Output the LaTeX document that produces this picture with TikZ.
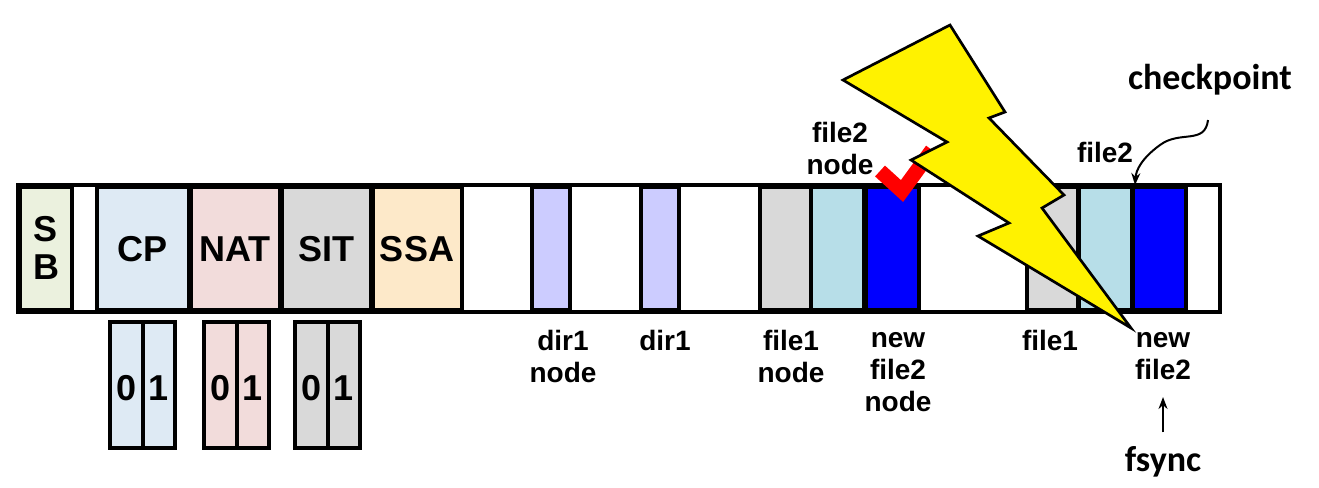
\documentclass[tikz,border=0pt]{standalone}
\usepackage{fontspec}
\setmainfont{Liberation Sans}
\newfontfamily\calib{Carlito}
\usetikzlibrary{arrows.meta}
\usetikzlibrary{positioning}
\definecolor{sbgreen}{HTML}{EBF1DE}
\definecolor{cpblue}{HTML}{DEEAF4}
\definecolor{natred}{HTML}{F2DCDB}
\definecolor{sitgray}{HTML}{D9D9D9}
\definecolor{ssaorange}{HTML}{FDE9C9}
\definecolor{dirlav}{HTML}{CCCCFF}
\definecolor{ltblue}{HTML}{B7DEE8}
\tikzset{
    cell/.style={draw=black, line width=3pt},
    lbl/.style={font=\fontsize{21}{24}\selectfont\bfseries, align=center, inner sep=0pt},
    big/.style={font=\fontsize{27}{30}\selectfont\bfseries, align=center, inner sep=0pt},
    call/.style={font=\calib\fontsize{27}{30}\selectfont\bfseries, inner sep=0pt},
}
\begin{document}
\begin{tikzpicture}[x=0.75pt, y=-0.75pt]
        \useasboundingbox (0,0) rectangle (1319,487);

        % main bar
        \draw[cell, fill=white] (18,185) rectangle (1220,312);
        \draw[cell, fill=sbgreen] (20,187) rectangle (72,310);
        \draw[cell, fill=cpblue] (97,187) rectangle (189,310);
        \draw[cell, fill=natred] (191,187) rectangle (280,310);
        \draw[cell, fill=sitgray] (282,187) rectangle (371,310);
        \draw[cell, fill=ssaorange] (373,187) rectangle (462,310);
        \draw[cell, fill=dirlav] (532,187) rectangle (570,310);
        \draw[cell, fill=dirlav] (641,187) rectangle (679,310);
        \draw[cell, fill=sitgray] (760,187) rectangle (811,310);
        \draw[cell, fill=ltblue] (811,187) rectangle (864,310);
        \draw[cell, fill=blue] (866,187) rectangle (919,310);
        \draw[cell, fill=sitgray] (1027,187) rectangle (1078,310);
        \draw[cell, fill=ltblue] (1079,187) rectangle (1132,310);
        \draw[cell, fill=blue] (1133,187) rectangle (1186,310);

        \node[big] (sb) at (46,248) {S\\[-2pt]B};
        \node[big] (cp) at (143,249) {CP};
        \node[big] (nat) at (235,249) {NAT};
        \node[big] (sit) at (326,249) {SIT};
        \node[big] (ssa) at (417,249) {SSA};

        % two copies each
        \foreach \xa/\col in {110/cpblue, 204/natred, 295/sitgray}
        {
            \draw[cell, fill=\col] (\xa,322) rectangle +(33,126);
            \draw[cell, fill=\col] (\xa+33,322) rectangle +(32,126);
            \node[big] at (\xa+17,388) {0};
            \node[big] at (\xa+49,388) {1};
        }

        % labels
        \node[lbl] (dirnode) at (563,356) {dir1\\node};
        \node[lbl] (dir) at (665,340) {dir1};
        \node[lbl] (filenode) at (791,356) {file1\\node};
        \node[lbl] (newnode) at (898,372) {new\\file2\\node};
        \node[lbl] (fileone) at (1050,340) {file1};
        \node[lbl] (newfile) at (1163,356) {new\\file2};
        \node[lbl] (oldnode) at (840,148) {file2\\node};
        \node[lbl] (filetwo) at (1105,152) {file2};
        \node[call] (fsync) at (1163,462) {fsync};
        \node[call] (ckpt) at (1210,80) {checkpoint};
        \coordinate (ckend) at (1135,185);
        \coordinate (fsend) at (1163,397);

        \draw[-{Stealth[length=9pt]}, line width=1.5pt] (fsync.north) ++(0,-14) -- (fsend);
        \draw[-{Stealth[length=9pt]}, line width=1.5pt] (1208,120)
            .. controls (1205,145) and (1180,130) .. (1160,145)
            .. controls (1142,158) and (1136,170) .. (ckend);

        % red mark
        \draw[red, line width=11pt] (880,171) -- (902,191) -- (932,150);

        % lightning
        \draw[line width=2pt, fill=yellow, line join=miter]
            (950,25) -- (1005,112) -- (989,118) -- (1064,195) -- (1042,208)
            -- (1131,328) -- (978,236) -- (1009,223) -- (911,160) -- (947,142)
            -- (843,80) -- cycle;
    \end{tikzpicture}
\end{document}
